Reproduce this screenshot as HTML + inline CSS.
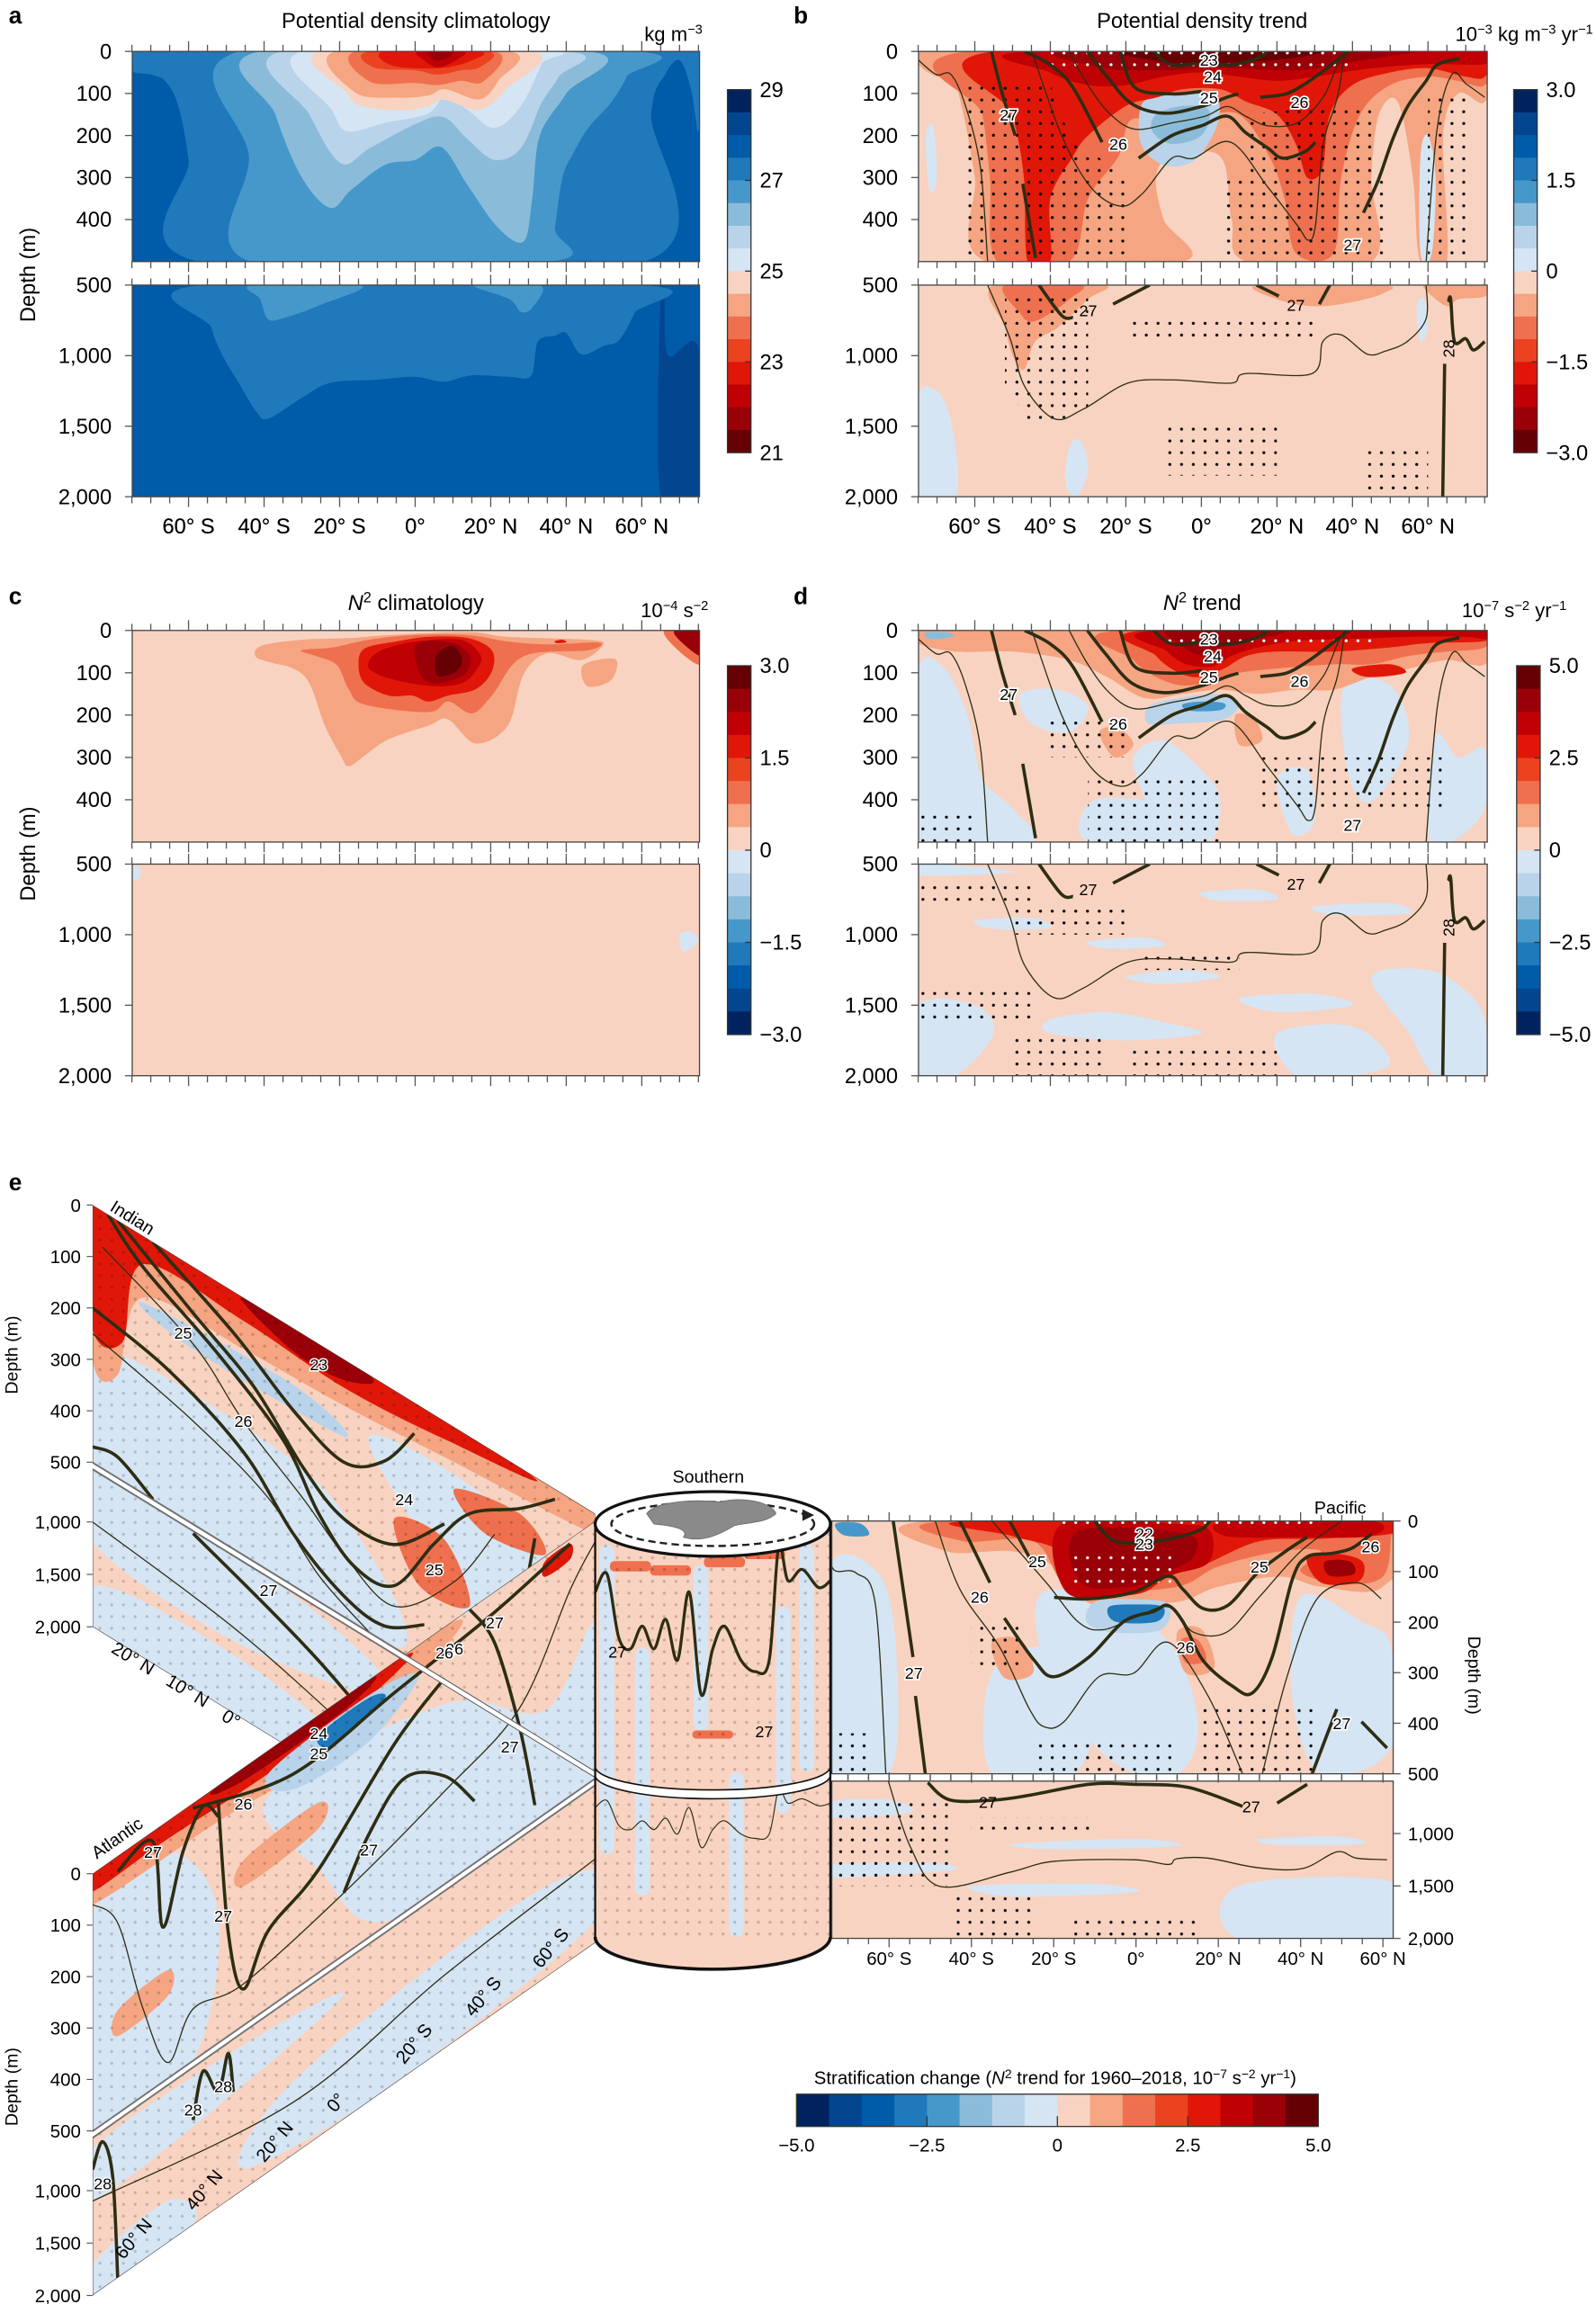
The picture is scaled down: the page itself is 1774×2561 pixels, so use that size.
<!DOCTYPE html>
<html><head><meta charset="utf-8"><style>
html,body{margin:0;padding:0;background:#fff;}
svg{display:block;font-family:"Liberation Sans",sans-serif;}
</style></head><body>
<svg id="fig" xmlns="http://www.w3.org/2000/svg" width="1774" height="2561" viewBox="0 0 1086 1567.8" preserveAspectRatio="none">
<defs>
<pattern id="dots" patternUnits="userSpaceOnUse" width="8" height="8"><circle cx="4" cy="4" r="1" fill="#000"/></pattern>
<pattern id="wdots" patternUnits="userSpaceOnUse" width="8" height="8"><circle cx="4" cy="4" r="1" fill="#fff"/></pattern>
</defs>
<g id="layer"></g>
<g font-weight="bold" font-size="16">
<text x="6" y="16">a</text>
<text x="540" y="16">b</text>
<text x="6" y="411">c</text>
<text x="540" y="411">d</text>
<text x="6" y="810">e</text>
</g>
<g font-size="14.5" text-anchor="middle">
<text x="283" y="19">Potential density climatology</text>
<text x="818" y="19">Potential density trend</text>
<text x="283" y="415"><tspan font-style="italic">N</tspan><tspan dy="-5" font-size="10">2</tspan><tspan dy="5"> climatology</tspan></text>
<text x="818" y="415"><tspan font-style="italic">N</tspan><tspan dy="-5" font-size="10">2</tspan><tspan dy="5"> trend</tspan></text>
</g>
<g font-size="13.5" text-anchor="end">
<text x="478" y="28">kg m<tspan dy="-5" font-size="9">−3</tspan></text>
<text x="1084" y="28">10<tspan dy="-5" font-size="9">−3</tspan><tspan dy="5"> kg m</tspan><tspan dy="-5" font-size="9">−3</tspan><tspan dy="5"> yr</tspan><tspan dy="-5" font-size="9">−1</tspan></text>
<text x="482" y="420">10<tspan dy="-5" font-size="9">−4</tspan><tspan dy="5"> s</tspan><tspan dy="-5" font-size="9">−2</tspan></text>
<text x="1066" y="420">10<tspan dy="-5" font-size="9">−7</tspan><tspan dy="5"> s</tspan><tspan dy="-5" font-size="9">−2</tspan><tspan dy="5"> yr</tspan><tspan dy="-5" font-size="9">−1</tspan></text>
</g>
<g font-size="14.5" text-anchor="middle">
<text transform="translate(24,187) rotate(-90)">Depth (m)</text>
<text transform="translate(24,581) rotate(-90)">Depth (m)</text>
</g>
<g font-size="12" text-anchor="middle">
<text transform="translate(12,922) rotate(-90)">Depth (m)</text>
<text transform="translate(12,1420) rotate(-90)">Depth (m)</text>
<text transform="translate(999,1140) rotate(90)">Depth (m)</text>
<text x="482" y="1009">Southern</text>
<text x="912" y="1030">Pacific</text>
<text transform="translate(88,832) rotate(32)">Indian</text>
<text transform="translate(82,1254) rotate(-35)">Atlantic</text>
</g>
<text x="718" y="1418" font-size="12.5" text-anchor="middle">Stratification change (<tspan font-style="italic">N</tspan><tspan dy="-4" font-size="8.5">2</tspan><tspan dy="4"> trend for 1960–2018, 10</tspan><tspan dy="-4" font-size="8.5">−7</tspan><tspan dy="4"> s</tspan><tspan dy="-4" font-size="8.5">−2</tspan><tspan dy="4"> yr</tspan><tspan dy="-4" font-size="8.5">−1</tspan><tspan dy="4">)</tspan></text>
</svg>
<script>
const NS='http://www.w3.org/2000/svg';
const root=document.getElementById('layer');
const PAL=['#00235f','#03468f','#005ba8','#1f79ba','#4698cb','#8abcda','#b9d3ea','#d5e5f4','#f9d3c1','#f5a582','#ef704e','#eb4220','#e01708','#bf0005','#9a0008','#650005'];
const LINE='#2d2d14';

const aUpLayers=[
 ['#1f79ba',[[-75,0],[-75,46],[-70,55],[-66,72],[-62.7,131],[-60,258],[-57.3,500],[60.7,500],[62.5,148],[66.2,55],[70,21],[73,89],[75,190],[75,0]]],
 ['#4698cb',[[-46.5,0],[-44,250],[-43.6,500],[35.5,500],[37,420],[39,300],[42,240],[46,180],[52,120],[56,60],[58,0]]],
 ['#8abcda',[[-41,0],[-37,150],[-30,300],[-22.5,372],[-17,330],[-8,270],[0,258],[7,228],[14,320],[22,420],[28.7,452],[31,350],[33,200],[40,100],[46,0]]],
 ['#b9d3ea',[[-35.4,0],[-28,150],[-19.7,266],[-12,230],[0,173],[7.5,156],[14,210],[21,258],[28,230],[33.5,122],[38,60],[40,0]]],
 ['#d5e5f4',[[-30,0],[-22,140],[-18,190],[-8,170],[3.4,148],[8,105],[14,140],[21,182],[28,130],[33.5,30],[35,0]]],
 ['#f9d3c1',[[-25,0],[-18,100],[-14,131],[-3,140],[3.4,131],[7.5,115],[17,139],[24,90],[31,0]]],
 ['#f5a582',[[-21,0],[-16,97],[-5,110],[3.4,105],[8,90],[17,114],[22,70],[25,0]]],
 ['#ef704e',[[-15.6,0],[-12,72],[0,75],[6,80],[12,70],[18,72],[21,0]]],
 ['#eb4220',[[-12,0],[-11,38],[0,45],[6,55],[12,45],[17,38],[19,0]]],
 ['#e01708',[[-8,0],[-6,34],[6,40],[14,25],[17,0]]],
 ['#bf0005',[[0.7,0],[3,25],[6,38],[10,25],[13,0]]],
 ['#9a0008',[[3.5,0],[5,21],[8,18],[10,0]]]
];
const aLoLayers=[
 ['#03468f',[[65,560],[66,600],[67,1000],[75,950],[75,2000],[65,2000]]],
 ['#1f79ba',[[-56.6,500],[-54,800],[-51,1000],[-47,1180],[-42,1400],[-38.8,1445],[-30,1300],[-22.5,1193],[-10,1170],[0,1150],[7.5,1185],[15,1140],[25,1150],[30.7,1142],[32.5,900],[37,860],[40,840],[44,990],[50,930],[54,890],[58,700],[60,500]]],
 ['#4698cb',[[-43,500],[-41,600],[-39,740],[-35,735],[-25,640],[-14.3,500]]],
 ['#4698cb',[[15.7,500],[25,600],[28,690],[31,660],[33,500]]]
];
const bUpLayers=[
 ['#f5a582',[[-75,0],[-75,30],[-70,60],[-66,60],[-63,150],[-60,300],[-57,500],[-5,500],[-10,400],[-12,300],[-8,250],[5,250],[8,400],[12,500],[45,500],[45,300],[47,150],[52,120],[56,300],[58,500],[65,500],[64,200],[68,100],[75,120],[75,0]]],
 ['#ef704e',[[-62,0],[-58,150],[-56,300],[-54,500],[-35,500],[-30,350],[-22,250],[-18,160],[-5,200],[0,160],[10,150],[18,250],[22,350],[25,480],[35,480],[37,300],[42,150],[50,80],[60,60],[68,70],[75,80],[75,0]]],
 ['#e01708',[[-55,0],[-50,150],[-47,300],[-46,500],[-40,500],[-40,350],[-34,250],[-30,200],[-20,130],[-12,110],[-5,90],[5,90],[12,120],[20,150],[25,220],[28,300],[32,280],[34,150],[40,80],[50,50],[60,40],[70,60],[75,60],[75,0]]],
 ['#bf0005',[[-45,0],[-40,50],[-30,80],[-20,80],[-10,60],[0,50],[10,60],[20,70],[30,60],[45,40],[60,30],[75,30],[75,0]]],
 ['#9a0008',[[-35,0],[-25,40],[-10,45],[0,40],[10,40],[25,45],[40,25],[50,10],[50,0]]],
 ['#650005',[[-20,0],[-10,25],[0,30],[10,25],[20,20],[30,0]]],
 ['#b9d3ea',[[-16,130],[-12,110],[-4,100],[4,110],[4,180],[-2,260],[-10,270],[-16,220]]],
 ['#8abcda',[[-12,150],[-5,130],[2,140],[0,200],[-8,220],[-13,190]]],
 ['#d5e5f4',[[-73,200],[-71,180],[-70,300],[-72,330]]],
 ['#d5e5f4',[[58,250],[60,200],[62,300],[61,480],[58,480]]]
];
const bLoLayers=[
 ['#f5a582',[[-55,500],[-52,800],[-50,1000],[-47,1100],[-44,900],[-38,800],[-30,600],[-26,500]]],
 ['#f5a582',[[15,500],[20,600],[30,650],[40,620],[48,560],[48,500]]],
 ['#f5a582',[[60,550],[65,650],[68,600],[75,580],[75,500],[60,500]]],
 ['#ef704e',[[-52,500],[-48,700],[-45,760],[-40,700],[-35,600],[-32,500]]],
 ['#d5e5f4',[[-75,1300],[-70,1250],[-66,1500],[-65,2000],[-75,2000]]],
 ['#d5e5f4',[[-35,1650],[-32,1600],[-30,1800],[-33,2000],[-36,1900]]],
 ['#d5e5f4',[[57,650],[59,600],[60,800],[58,900]]]
];
const cUpLayers=[
 ['#f5a582',[[-42.3,61],[-40.7,36],[-30,22],[-17.6,18],[-7,11],[14,4],[24.5,15],[45.6,22],[49.8,33],[44,70],[35,54],[28.7,104],[24.5,225],[16,267],[8.7,210],[3.5,225],[-7,257],[-13.4,296],[-17.6,321],[-19.7,296],[-23.9,225],[-28,125],[-32.3,90],[-38.6,75]]],
 ['#f5a582',[[44.5,82],[45.6,132],[51.9,117],[53,68]]],
 ['#ef704e',[[-30.2,47],[-21.8,40],[-12.3,22],[-0.7,11],[14,11],[24.5,26],[35,33],[48.7,29],[45.6,47],[28.7,61],[20.3,154],[15,196],[8.7,168],[3.5,193],[-13.4,175],[-17.6,139],[-20.7,82],[-26,61]]],
 ['#e01708',[[-15,82],[-13.4,43],[-5,26],[3.5,15],[14,18],[20.3,47],[20.3,97],[16,139],[8.7,154],[3.5,168],[-0.7,154],[-7,154],[-13.4,125]]],
 ['#bf0005',[[-12.3,75],[-9,47],[0.3,26],[12,22],[17,54],[17,82],[13,122],[5.6,132],[-5,118],[-11.3,97]]],
 ['#9a0008',[[0.3,33],[9.8,29],[14.5,61],[13,104],[5.6,125],[1.4,104]]],
 ['#650005',[[5.6,61],[9.8,36],[12.4,68],[10.8,97],[6,107]]],
 ['#ef704e',[[66,0],[76,0],[76,80],[70,50]]],
 ['#9a0008',[[68.7,0],[76,0],[76,60],[70.8,30]]],
 ['#e01708',[[37,25],[39,22],[40,28],[37.5,30]]]
];
const cLoLayers=[
 ['#d5e5f4',[[-75,520],[-73,520],[-73,600],[-75,600]]],
 ['#d5e5f4',[[70,1000],[73,980],[75,1050],[71,1120]]]
];
const dUpLayers=[
 ['#d5e5f4',[[-75,100],[-68,90],[-62,200],[-58,350],[-50,420],[-45,500],[-75,500]]],
 ['#d5e5f4',[[-48,150],[-38,140],[-30,180],[-35,240],[-45,220]]],
 ['#d5e5f4',[[-18,300],[-10,260],[0,330],[5,400],[2,500],[-12,500],[-15,400]]],
 ['#d5e5f4',[[20,350],[28,330],[30,450],[24,480]]],
 ['#d5e5f4',[[38,130],[50,130],[55,250],[48,380],[42,400],[38,300]]],
 ['#d5e5f4',[[62,250],[68,300],[75,280],[75,420],[66,500],[60,480]]],
 ['#d5e5f4',[[-28,400],[-5,420],[0,500],[-30,500]]],
 ['#f5a582',[[-75,0],[-75,30],[-65,50],[-50,50],[-35,70],[-25,110],[-15,160],[-5,150],[5,140],[15,150],[25,140],[35,140],[45,110],[55,90],[65,70],[75,80],[75,0]]],
 ['#ef704e',[[-22,0],[-18,70],[-12,110],[-5,130],[3,120],[10,100],[20,90],[35,80],[45,80],[55,60],[65,50],[75,40],[75,0]]],
 ['#e01708',[[-15,0],[-12,60],[-6,100],[0,110],[6,90],[12,60],[20,50],[35,50],[50,40],[60,30],[75,25],[75,0]]],
 ['#bf0005',[[-12,0],[-9,50],[-4,80],[3,85],[8,60],[15,40],[25,25],[40,20],[55,15],[70,15],[75,20],[75,0]]],
 ['#9a0008',[[-8,0],[-6,30],[0,60],[5,40],[12,25],[20,10],[20,0]]],
 ['#e01708',[[40,90],[50,80],[54,100],[44,110]]],
 ['#b9d3ea',[[-14,180],[-6,160],[4,150],[10,170],[6,210],[-6,220],[-14,220]]],
 ['#4698cb',[[-5,175],[0,168],[6,172],[5,188],[-3,190]]],
 ['#f5a582',[[-27,240],[-22,230],[-18,270],[-23,300]]],
 ['#f5a582',[[9,200],[14,210],[16,260],[10,270]]],
 ['#8abcda',[[-73,5],[-67,5],[-66,15],[-72,20]]]
];
const dLoLayers=[
 ['#d5e5f4',[[-75,500],[-60,520],[-50,560],[-75,580]]],
 ['#d5e5f4',[[-75,1500],[-60,1500],[-55,1700],[-65,2000],[-75,2000]]],
 ['#d5e5f4',[[-40,1600],[-25,1550],[-10,1620],[0,1700],[-20,1750],[-40,1700]]],
 ['#d5e5f4',[[-20,1300],[-5,1250],[5,1300],[-10,1350]]],
 ['#d5e5f4',[[10,1450],[30,1420],[40,1500],[20,1550]]],
 ['#d5e5f4',[[45,1300],[60,1250],[70,1400],[75,1600],[75,2000],[62,2000],[55,1700]]],
 ['#d5e5f4',[[20,1700],[40,1650],[50,1900],[40,2000],[25,2000]]],
 ['#d5e5f4',[[-60,900],[-45,880],[-40,950],[-55,960]]],
 ['#d5e5f4',[[0,700],[15,680],[20,750],[5,760]]],
 ['#d5e5f4',[[30,800],[50,780],[55,850],[35,860]]],
 ['#d5e5f4',[[-30,1050],[-15,1020],[-10,1080],[-25,1100]]]
];
const cUpThick=[
 [[-55.6,0],[-52.7,101],[-49.3,200]],
 [[-47.3,315],[-43.9,491]],
 [[68.3,17],[62.4,32],[59.5,70],[54.6,131],[50.7,208],[46.8,307],[42.9,384]],
 [[-46.8,0],[-40,32],[-34,86],[-26.3,216]],
 [[-16.6,254],[-7.8,200],[0,177],[6.8,154],[11.7,193],[17.6,230],[21.5,254],[27.3,239],[30.2,216]],
 [[-30.2,0],[-25.4,55],[-18.5,124],[-9.8,147],[0,131],[6.8,109],[9.8,101]],
 [[15.6,109],[22.4,101],[27.3,78],[32.2,47],[39,0]],
 [[-21.5,0],[-17.6,86],[-7.8,101],[0,95]],
 [[-12.7,0],[-7.8,32],[0,28],[7.8,32],[14.6,17],[17.6,0]]
];
const cUpThin=[
 [[-75,20],[-70.2,55],[-66.3,55],[-62.4,131],[-58.5,277],[-56.6,500]],
 [[-44.9,0],[-37,200],[-29.3,323],[-21.5,368],[-15.6,338],[-7.8,254],[-2,254],[7.8,216],[17.6,323],[25.4,414],[28.3,449],[30.2,414],[32.2,223],[36,109],[38,0]],
 [[-35,0],[-30.2,78],[-24.4,147],[-17.6,185],[-7.8,170],[1,154],[6.8,131],[11.7,154],[17.6,177],[25.4,170],[32.2,109],[36,32],[38,0]],
 [[59.5,500],[62.4,185],[66.3,55],[70.2,78],[75,109]]
];
const cLoThick=[
 [[-43,500],[-37,715],[-34,730]],
 [[-23.4,635],[-13.7,500]],
 [[14.6,500],[20.5,578]],
 [[31.2,635],[34,500]],
 [[64.4,1058],[63.9,2000]],
 [[65.4,620],[66,600],[67,900],[70,880],[72,960],[75,900]]
];
const cLoThin=[
 [[-56.6,500],[-50.7,875],[-46.8,1218],[-39,1447],[-31.2,1378],[-19.5,1195],[-7.8,1172],[7.8,1195],[11.7,1127],[29.3,1127],[32.2,898],[37,852],[43.9,989],[48.8,967],[54.6,898],[59.5,738],[59.5,500]]
];
const bDotsUp=[[[-62,80],[-40,80],[-35,200],[-20,300],[-20,500],[-62,500]],[[5,300],[50,300],[48,500],[5,500]],[[12,150],[45,120],[45,300],[12,300]],[[60,100],[72,100],[72,500],[60,500]]];
const bWDotsUp=[[[-40,0],[40,0],[40,50],[-40,50]]];
const bDotsLo=[[[-52,550],[-30,550],[-30,1400],[-45,1500],[-52,1200]],[[-20,700],[30,700],[30,900],[-20,900]],[[-10,1450],[20,1450],[20,1850],[-10,1850]],[[42,1650],[60,1650],[60,2000],[42,2000]]];
const dDotsUp=[[[-75,420],[-60,420],[-60,500],[-75,500]],[[-40,200],[-20,200],[-20,300],[-40,300]],[[-30,340],[5,340],[5,500],[-30,500]],[[15,300],[65,300],[65,420],[15,420]]];
const dWDotsUp=[[[-10,0],[45,0],[45,40],[-10,40]]];
const dDotsLo=[[[-75,620],[-45,620],[-45,760],[-75,760]],[[-50,780],[-20,780],[-20,1000],[-50,1000]],[[-75,1400],[-45,1400],[-45,1600],[-75,1600]],[[-50,1700],[-25,1700],[-25,2000],[-50,2000]],[[-20,1800],[20,1800],[20,2000],[-20,2000]],[[-15,1150],[10,1150],[10,1250],[-15,1250]]];

const pUpLayers=[
 ['#d5e5f4',[[-75,100],[-62,110],[-58,300],[-60,500],[-75,500]]],
 ['#d5e5f4',[[-35,300],[-20,250],[-10,350],[-15,500],[-35,500]]],
 ['#d5e5f4',[[-24,154],[-10,150],[8,240],[15,400],[10,500],[-5,480],[-20,330]]],
 ['#d5e5f4',[[40,150],[55,200],[62,250],[62,450],[45,500],[38,350]]],
 ['#f5a582',[[-50,0],[-46,60],[-30,60],[-20,90],[-12,160],[-5,160],[10,160],[20,130],[35,110],[45,130],[60,130],[62,0]]],
 ['#ef704e',[[-45,0],[-42,40],[-25,40],[-18,120],[-10,140],[10,130],[20,90],[35,60],[45,60],[40,100],[50,125],[60,110],[62,30],[62,0]]],
 ['#e01708',[[-40,0],[-30,30],[-18.7,60],[-16,140],[0,145],[8,110],[17,85],[30,40],[45,35],[62,25],[62,0]]],
 ['#bf0005',[[-18,6],[-17,140],[-3,145],[8,108],[17.5,83],[18,20],[10,6]]],
 ['#9a0008',[[-14,20],[-13,125],[2,125],[8,100],[14,70],[12,25]]],
 ['#bf0005',[[22,0],[57,0],[57,30],[40,32],[22,30]]],
 ['#e01708',[[41.5,71],[48,64],[55,80],[54,120],[45,122]]],
 ['#9a0008',[[46,80],[52,80],[53,105],[47,108]]],
 ['#4698cb',[[-73,5],[-67,5],[-65,28],[-71,28]]],
 ['#b9d3ea',[[-10,160],[0,155],[8,165],[6,215],[-6,220],[-12,200]]],
 ['#1f79ba',[[-6.6,170],[0,165],[6.6,170],[5,199],[-5,199]]],
 ['#f5a582',[[10,220],[16,215],[19,290],[12,300]]],
 ['#ef704e',[[11,235],[15,235],[17,275],[12,280]]],
 ['#f5a582',[[-35,240],[-28,235],[-25,300],[-32,310]]]
];
const pLoLayers=[
 ['#d5e5f4',[[25,1500],[62,1460],[62,2000],[25,2000]]],
 ['#d5e5f4',[[-75,700],[-60,680],[-55,800],[-75,850]]],
 ['#d5e5f4',[[-75,1300],[-50,1280],[-45,1350],[-75,1420]]],
 ['#d5e5f4',[[-30,1100],[0,1050],[10,1120],[-20,1150]]],
 ['#d5e5f4',[[-40,1500],[-10,1480],[0,1560],[-30,1600]]],
 ['#d5e5f4',[[30,1050],[50,1030],[55,1100],[35,1110]]]
];
const pUpThick=[
 [[-59,0],[-54.2,269]],[[-53.6,346],[-51.2,500]],
 [[-42.8,0],[-35.5,122]],
 [[-32,192],[-24.7,276],[-19.9,308],[-11.4,269],[-3,199],[4.2,179],[7.8,167],[11.4,199],[16.3,276],[23.5,327],[28.3,340],[33.1,269],[38,115],[41.6,71],[47.6,64],[52.4,54],[57.2,26]],
 [[-30.7,0],[-24.7,90]],
 [[-19.9,151],[-11.4,154],[-0.6,141],[7.8,109],[11.4,135],[16.3,173],[22.3,167],[29.5,103],[36.7,58],[41.6,32]],
 [[-10,0],[-5,40],[5,40],[15,20],[18,0]],
 [[42.8,500],[48.8,372]],[[54.8,397],[61,449]]
];
const pUpThin=[
 [[-75,40],[-73.5,96],[-68,103],[-63.3,167],[-60.8,500]],
 [[-48.8,0],[-42.8,135],[-33.1,250],[-25.9,372],[-22.3,407],[-17.5,397],[-9,308],[-0.6,301],[7.8,240],[17.5,346],[25.9,500]],
 [[30.7,500],[36.7,308],[44,154],[53.6,122],[59.6,154]],
 [[-35,0],[-22,120],[-14,200],[-8,215],[0,190],[8,170],[14,220],[22,220],[30,150],[40,60],[50,0]]
];
const pLoThick=[
 [[-50.6,515],[-45.2,680],[-34.3,680],[-25.9,635],[-11.4,530],[-0.6,530],[12.7,560],[25.9,740]],
 [[34.3,710],[41.6,530]]
];
const pLoThin=[
 [[-60.2,500],[-54.8,1130],[-47.6,1505],[-30.7,1370],[-19.9,1265],[-0.6,1250],[7.8,1295],[10,1240],[17.5,1235],[29.5,1325],[40.4,1334],[48.8,1175],[53.6,1235],[61,1250]]
];
const pDotsUp=[[[-75,420],[-65,420],[-65,500],[-75,500]],[[-40,200],[-28,200],[-28,300],[-40,300]],[[-25,440],[10,440],[10,500],[-25,500]],[[15,360],[45,360],[45,500],[15,500]]];
const pWDotsUp=[[[-18,0],[45,0],[45,20],[-18,20]],[[-16,60],[10,60],[10,130],[-16,130]]];
const pDotsLo=[[[-75,700],[-45,700],[-45,1500],[-75,1500]],[[-40,850],[-10,850],[-10,1000],[-40,1000]],[[-45,1600],[-25,1600],[-25,2000],[-45,2000]],[[-15,1800],[15,1800],[15,2000],[-15,2000]]];

// Indian & Atlantic: [u along section 0..1, depth]
const iUpLayers=[
 ['#d5e5f4',[[0,280],[0.3,250],[0.5,300],[0.6,500],[0,500]]],
 ['#d5e5f4',[[0.55,120],[0.8,100],[0.95,200],[1,500],[0.85,500],[0.7,300]]],
 ['#f5a582',[[0,0],[1,0],[1,40],[0.7,70],[0.5,90],[0.3,100],[0.1,120],[0.05,300],[0,300]]],
 ['#e01708',[[0,0],[0.85,0],[0.7,35],[0.5,55],[0.3,45],[0.1,55],[0.06,230],[0,240]]],
 ['#9a0008',[[0.3,0],[0.55,0],[0.5,40],[0.4,45]]],
 ['#b9d3ea',[[0.1,130],[0.4,110],[0.5,150],[0.2,160]]],
 ['#ef704e',[[0.6,250],[0.7,230],[0.75,330],[0.65,350]]],
 ['#ef704e',[[0.72,120],[0.85,90],[0.9,140],[0.78,170]]]
];
const iLoLayers=[
 ['#d5e5f4',[[0,520],[0.4,520],[0.6,900],[0.3,1300],[0,1200]]],
 ['#d5e5f4',[[0.05,1500],[0.4,1500],[0.6,2000],[0,2000]]],
 ['#d5e5f4',[[0.7,600],[0.9,600],[1,900],[0.85,1200]]],
 ['#f5a582',[[0.65,510],[0.8,510],[0.78,700],[0.68,700]]]
];
const iUpThick=[[[0.03,0],[0.1,60],[0.25,140],[0.38,230],[0.45,330],[0.52,390],[0.6,380],[0.68,250],[0.75,150],[0.85,80],[0.92,20]],
 [[0,200],[0.15,230],[0.3,300],[0.4,400],[0.5,460],[0.58,470],[0.66,420]],
 [[0.05,0],[0.2,90],[0.32,160],[0.42,260],[0.5,310],[0.6,300],[0.7,200]],
 [[0.12,0],[0.28,80],[0.4,160],[0.5,200],[0.58,150],[0.64,60]],
 [[0,470],[0.05,460],[0.12,500]],
 [[0.88,120],[0.85,300],[0.82,500]]];
const iUpThin=[[[0,250],[0.2,300],[0.35,360],[0.45,450],[0.55,500]],[[0.02,70],[0.2,150],[0.3,240],[0.42,320],[0.5,380],[0.6,420],[0.72,300],[0.8,160]]];
const iLoThick=[[[0.2,520],[0.45,1000],[0.7,1700]],[[0.82,500],[0.8,1100],[0.78,2000]]];
const iLoThin=[[[0,1000],[0.3,1200],[0.6,1600],[0.8,1800]],[[0.92,500],[0.85,1000],[0.8,1500]]];
const aUpLayersE=[
 ['#d5e5f4',[[0,80],[0.15,60],[0.25,250],[0.2,500],[0,500]]],
 ['#d5e5f4',[[0.35,90],[0.7,150],[0.9,300],[1,200],[1,500],[0.6,500],[0.45,300]]],
 ['#f5a582',[[0,0],[0.7,0],[0.62,70],[0.45,90],[0.25,70],[0,60]]],
 ['#e01708',[[0,0],[0.6,0],[0.55,35],[0.35,45],[0.15,35],[0,35]]],
 ['#9a0008',[[0.25,0],[0.55,0],[0.5,25],[0.3,25]]],
 ['#b9d3ea',[[0.35,45],[0.55,30],[0.65,60],[0.55,120],[0.4,110]]],
 ['#1f79ba',[[0.45,40],[0.55,35],[0.58,60],[0.48,80]]],
 ['#f5a582',[[0.3,180],[0.45,170],[0.45,220],[0.3,230]]],
 ['#f5a582',[[0.05,300],[0.15,290],[0.15,340],[0.05,350]]],
 ['#e01708',[[0.9,10],[0.95,10],[0.95,40],[0.9,40]]]
];
const aLoLayersE=[
 ['#d5e5f4',[[0,600],[0.3,620],[0.5,800],[0.3,1000],[0,1100]]],
 ['#d5e5f4',[[0.4,1300],[0.8,1100],[1,1300],[1,1800],[0.6,2000],[0.3,1800]]],
 ['#d5e5f4',[[0,1700],[0.15,1600],[0.2,2000],[0,2000]]]
];
const aUpThickE=[[[0.05,30],[0.12,20],[0.14,200],[0.18,80],[0.22,20],[0.25,60]],[[0.25,30],[0.27,300],[0.3,430],[0.35,350],[0.45,300],[0.6,160],[0.7,100]],[[0.2,10],[0.4,80],[0.6,60],[0.8,40],[0.95,10]],[[0.75,0],[0.8,100],[0.85,300],[0.88,470]],[[0.5,380],[0.55,300],[0.62,240],[0.7,290],[0.76,380]]];
const aUpThinE=[[[0,60],[0.05,130],[0.1,330],[0.15,470],[0.2,400],[0.3,420],[0.5,380],[0.7,320],[0.85,260],[0.95,100],[1,40]]];
const aLoThickE=[[[0,800],[0.02,600],[0.04,1000],[0.05,2000]],[[0.2,1000],[0.22,600],[0.25,900],[0.27,600],[0.28,1000]]];
const aLoThinE=[[[0,1100],[0.4,1500],[0.7,1300],[1,1200]]];
// Southern cylinder: [fraction across, top, bottom]
const cylBlue=[[0.05,0.05,0.8],[0.2,0.3,0.9],[0.45,0.1,0.5],[0.6,0.6,1.0],[0.8,0.2,0.7],[0.9,0.05,0.6]];
const cylRed=[[0.15,0.09,0.115],[0.32,0.1,0.125],[0.55,0.08,0.105],[0.72,0.06,0.085],[0.5,0.5,0.52]];
const cylLine=[[0,0.3],[0.05,0.22],[0.1,0.5],[0.15,0.55],[0.2,0.45],[0.25,0.55],[0.3,0.42],[0.35,0.6],[0.4,0.3],[0.45,0.75],[0.5,0.55],[0.55,0.45],[0.62,0.6],[0.68,0.65],[0.74,0.6],[0.78,0.1],[0.82,0.25],[0.88,0.2],[0.95,0.28],[1,0.25]];

const cbA=['29','27','25','23','21'];
const cbB=['3.0','1.5','0','−1.5','−3.0'];
const cbC=['3.0','1.5','0','−1.5','−3.0'];
const cbD=['5.0','2.5','0','−2.5','−5.0'];
const cbE=['−5.0','−2.5','0','2.5','5.0'];
const depthUp=[0,100,200,300,400];
const depthLo=[500,1000,1500,2000];
const latTicks=[-60,-40,-20,0,20,40,60];
const latNames=['60° S','40° S','20° S','0°','20° N','40° N','60° N'];

function fmtD(d){return d>=1000?Math.floor(d/1000)+','+String(d%1000).padStart(3,'0'):String(d);}
function mk(tag,attrs,parent){const e=document.createElementNS(NS,tag);for(const k in attrs)e.setAttribute(k,attrs[k]);(parent||root).appendChild(e);return e;}
function cr(p,closed){
 const n=p.length;if(n<2)return '';
 let d='M'+p[0][0].toFixed(2)+','+p[0][1].toFixed(2);
 const N=closed?n:n-1;
 for(let i=0;i<N;i++){
  const p0=p[closed?(i-1+n)%n:Math.max(i-1,0)],p1=p[i],p2=p[(i+1)%n],p3=p[closed?(i+2)%n:Math.min(i+2,n-1)];
  const c1=[p1[0]+(p2[0]-p0[0])/6,p1[1]+(p2[1]-p0[1])/6],c2=[p2[0]-(p3[0]-p1[0])/6,p2[1]-(p3[1]-p1[1])/6];
  d+='C'+c1[0].toFixed(2)+','+c1[1].toFixed(2)+' '+c2[0].toFixed(2)+','+c2[1].toFixed(2)+' '+p2[0].toFixed(2)+','+p2[1].toFixed(2);
 }
 return closed?d+'Z':d;
}
let clipN=0;
function clipPoly(pts){const id='cp'+(clipN++);const defs=document.querySelector('defs');const c=mk('clipPath',{id:id},defs);mk('polygon',{points:pts.map(p=>p.join(',')).join(' ')},c);return id;}
function axis(x0,x1,xc,k,y0,y1,lo){
 return {x0:x0,x1:x1,y0:y0,y1:y1,fx:lat=>xc+k*lat,fy:d=>lo?y0+(d-500)*(y1-y0)/1500:y0+d*(y1-y0)/500};
}
function drawField(ax,base,layers,thick,thin,dots,wdots,name){
 const cid=clipPoly([[ax.x0,ax.y0],[ax.x1,ax.y0],[ax.x1,ax.y1],[ax.x0,ax.y1]]);
 const g=mk('g',{'clip-path':'url(#'+cid+')'});
 
 
 mk('rect',{x:ax.x0,y:ax.y0,width:ax.x1-ax.x0,height:ax.y1-ax.y0,fill:base},g);
 const P=p=>[ax.fx(p[0]),ax.fy(p[1])];
 layers.forEach(L=>{const e=mk('path',{d:cr(L[1].map(P),true),fill:L[0]},g);});
 (dots||[]).forEach(r=>mk('path',{d:'M'+r.map(P).map(q=>q.join(',')).join('L')+'Z',fill:'url(#dots)'},g));
 (wdots||[]).forEach(r=>mk('path',{d:'M'+r.map(P).map(q=>q.join(',')).join('L')+'Z',fill:'url(#wdots)'},g));
 (thin||[]).forEach(l=>{const e=mk('path',{d:cr(l.map(P),false),fill:'none',stroke:LINE,'stroke-width':0.8},g);});
 (thick||[]).forEach(l=>{const e=mk('path',{d:cr(l.map(P),false),fill:'none',stroke:LINE,'stroke-width':2.2},g);});
 mk('rect',{x:ax.x0,y:ax.y0,width:ax.x1-ax.x0,height:ax.y1-ax.y0,fill:'none',stroke:'#444','stroke-width':0.8});
}
function ticks(ax,labels,labelX){
 const g=mk('g',{stroke:'#555','stroke-width':0.8});
 
 
 for(let lat=-75;lat<=75;lat+=5){
  const x=ax.fx(lat);if(x<ax.x0-0.5||x>ax.x1+0.5)continue;
  const L=(lat%20===0)?7:4.5;
  mk('line',{x1:x,y1:ax.y0,x2:x,y2:ax.y0-L},g);
  mk('line',{x1:x,y1:ax.y1,x2:x,y2:ax.y1+L},g);
 }
 labels.forEach(d=>{const y=ax.fy(d);mk('line',{x1:ax.x0,y1:y,x2:ax.x0-5,y2:y},g);
  const t=mk('text',{x:labelX,y:y+5,'font-size':14.5,'text-anchor':'end',stroke:'none',fill:'#000'});t.textContent=fmtD(d);
  });
}
function latLabels(ax,y,size){
 latTicks.forEach((lat,i)=>{const t=mk('text',{x:ax.fx(lat),y:y,'font-size':size,'text-anchor':'middle'});t.textContent=latNames[i];
  });
}
function vbar(x,y,w,h,colors,labels,name){
 const g=mk('g',{});
 
 
 const n=colors.length,ch=h/n;
 colors.forEach((c,i)=>mk('rect',{x:x,y:y+i*ch,width:w,height:ch+0.3,fill:c},g));
 mk('rect',{x:x,y:y,width:w,height:h,fill:'none',stroke:'#333','stroke-width':0.8},g);
 labels.forEach((s,i)=>{const yy=y+i*h/(labels.length-1);
  if(i>0&&i<labels.length-1)mk('line',{x1:x+w-4,y1:yy,x2:x+w,y2:yy,stroke:'#333','stroke-width':0.8},g);
  const t=mk('text',{x:x+w+6,y:yy+5,'font-size':14.5},g);t.textContent=s;
  });
}

const A_up=axis(90,476,282.5,2.57,35,178,false), A_lo=axis(90,476,282.5,2.57,194,338,true);
const B_up=axis(625,1012,817.5,2.57,35,178,false), B_lo=axis(625,1012,817.5,2.57,194,338,true);
const C_up=axis(90,476,282.5,2.57,429,573,false), C_lo=axis(90,476,282.5,2.57,588,732,true);
const D_up=axis(625,1012,817.5,2.57,429,573,false), D_lo=axis(625,1012,817.5,2.57,588,732,true);

drawField(A_up,'#005ba8',aUpLayers,[],[],[],[],'panel-a-upper-field');
drawField(A_lo,'#005ba8',aLoLayers,[],[],[],[],'panel-a-lower-field');
drawField(B_up,'#f9d3c1',bUpLayers,cUpThick,cUpThin,bDotsUp,bWDotsUp,'panel-b-upper-field');
drawField(B_lo,'#f9d3c1',bLoLayers,cLoThick,cLoThin,bDotsLo,[],'panel-b-lower-field');
drawField(C_up,'#f9d3c1',cUpLayers,[],[],[],[],'panel-c-upper-field');
drawField(C_lo,'#f9d3c1',cLoLayers,[],[],[],[],'panel-c-lower-field');
drawField(D_up,'#f9d3c1',dUpLayers,cUpThick,cUpThin,dDotsUp,dWDotsUp,'panel-d-upper-field');
drawField(D_lo,'#f9d3c1',dLoLayers,cLoThick,cLoThin,dDotsLo,[],'panel-d-lower-field');
[[A_up,A_lo,76],[B_up,B_lo,611],[C_up,C_lo,76],[D_up,D_lo,611]].forEach(p=>{
 ticks(p[0],depthUp,p[2]);ticks(p[1],depthLo,p[2]);latLabels(p[1],363,14.5);
});
vbar(495,61,16,247,PAL,cbA,'panel-a-colorbar');
vbar(1030,61,16,247,PAL,cbB,'panel-b-colorbar');
vbar(495,453,16,251,PAL.slice().reverse(),cbC,'panel-c-colorbar');
vbar(1032,453,16,251,PAL.slice().reverse(),cbD,'panel-d-colorbar');
[B_up,D_up].forEach(ax=>{
 [[-51,150,'27'],[-22,220,'26'],[2,20,'23'],[3,60,'24'],[2,110,'25'],[26,120,'26'],[40,460,'27']].forEach(l=>{
  const t=mk('text',{x:ax.fx(l[0]),y:ax.fy(l[1])+4,'font-size':11,'text-anchor':'middle',fill:'#000',stroke:'#fff','stroke-width':2.2,'paint-order':'stroke'});t.textContent=l[2];
  });
});
[B_lo,D_lo].forEach(ax=>{[[-30,680,'27'],[25,640,'27']].forEach(l=>{const t=mk('text',{x:ax.fx(l[0]),y:ax.fy(l[1])+4,'font-size':11,'text-anchor':'middle'});t.textContent=l[2];});
 const t=mk('text',{transform:'translate('+ax.fx(67)+','+ax.fy(950)+') rotate(-90)','font-size':11,'text-anchor':'middle'});t.textContent='28';});

// Pacific
const P_up=axis(566,948,773,2.8,1035,1207,false), P_lo=axis(566,948,773,2.8,1212,1319,true);
drawField(P_up,'#f9d3c1',pUpLayers,pUpThick,pUpThin,pDotsUp,pWDotsUp,'pacific-upper-field');
drawField(P_lo,'#f9d3c1',pLoLayers,pLoThick,pLoThin,pDotsLo,[],'pacific-lower-field');
[P_up,P_lo].forEach((ax,j)=>{
 const g=mk('g',{stroke:'#555','stroke-width':0.8});
 for(let lat=-70;lat<=60;lat+=5){const x=ax.fx(lat);const L=lat%20===0?6:4;mk('line',{x1:x,y1:ax.y0,x2:x,y2:ax.y0-L},g);mk('line',{x1:x,y1:ax.y1,x2:x,y2:ax.y1+L},g);}
 (j===0?depthUp.concat([500]):depthLo.slice(1)).forEach(d=>{const y=ax.fy(d);mk('line',{x1:ax.x1,y1:y,x2:ax.x1+5,y2:y},g);
  const t=mk('text',{x:ax.x1+10,y:y+4.5,'font-size':12.5,stroke:'none',fill:'#000'});t.textContent=fmtD(d);
  });
});
latLabels(P_lo,1337,12.5);
[[-24,80,'25'],[-38,150,'26'],[-54,300,'27'],[12,250,'26'],[30,90,'25'],[2,25,'22'],[2,45,'23'],[57,50,'26'],[50,400,'27']].forEach(l=>{
 const t=mk('text',{x:P_up.fx(l[0]),y:P_up.fy(l[1])+4,'font-size':11,'text-anchor':'middle',fill:'#000',stroke:'#fff','stroke-width':2,'paint-order':'stroke'});t.textContent=l[2];
 });
[[-36,700,'27'],[28,740,'27']].forEach(l=>{const t=mk('text',{x:P_lo.fx(l[0]),y:P_lo.fy(l[1])+4,'font-size':11,'text-anchor':'middle'});t.textContent=l[2];});

// skewed sections
function skew(ox,oy,ux,uy){
 const f=(d,lo)=>lo?180+(d-500)*107/1500:d*175/500;
 return {ox:ox,oy:oy,ux:ux,uy:uy,P:(p,lo)=>[ox+p[0]*ux,oy+p[0]*uy+f(p[1],lo)],
  box:lo=>{const a=lo?180:0,b=lo?287:175;return [[ox,oy+a],[ox+ux,oy+uy+a],[ox+ux,oy+uy+b],[ox,oy+b]];}};
}
function drawSkew(S,lo,layers,thick,thin,name){
 const box=S.box(lo);const cid=clipPoly(box);
 const g=mk('g',{'clip-path':'url(#'+cid+')'});
 
 
 mk('polygon',{points:box.map(p=>p.join(',')).join(' '),fill:'#f9d3c1'},g);
 layers.forEach(L=>{const e=mk('path',{d:cr(L[1].map(p=>S.P(p,lo)),true),fill:L[0]},g);});
 mk('polygon',{points:box.map(p=>p.join(',')).join(' '),fill:'url(#dots)',opacity:0.18},g);
 thin.forEach(l=>mk('path',{d:cr(l.map(p=>S.P(p,lo)),false),fill:'none',stroke:LINE,'stroke-width':0.8},g));
 thick.forEach(l=>mk('path',{d:cr(l.map(p=>S.P(p,lo)),false),fill:'none',stroke:LINE,'stroke-width':2.2},g));
 mk('polygon',{points:box.map(p=>p.join(',')).join(' '),fill:'none',stroke:'#444','stroke-width':0.7},g);
}
const IND=skew(63,820,342,210), ATL=skew(63,1275,342,-240);
drawSkew(IND,false,iUpLayers,iUpThick,iUpThin,'indian-upper-field');
drawSkew(IND,true,iLoLayers,iLoThick,iLoThin,'indian-lower-field');
drawSkew(ATL,false,aUpLayersE,aUpThickE,aUpThinE,'atlantic-upper-field');
drawSkew(ATL,true,aLoLayersE,aLoThickE,aLoThinE,'atlantic-lower-field');
[IND,ATL].forEach(S=>{mk('line',{x1:S.ox,y1:S.oy+177.5,x2:S.ox+S.ux,y2:S.oy+S.uy+177.5,stroke:'#fff','stroke-width':4});
 mk('line',{x1:S.ox,y1:S.oy+175.5,x2:S.ox+S.ux,y2:S.oy+S.uy+175.5,stroke:'#555','stroke-width':0.6});
 mk('line',{x1:S.ox,y1:S.oy+179.5,x2:S.ox+S.ux,y2:S.oy+S.uy+179.5,stroke:'#555','stroke-width':0.6});});
[[IND,'indian'],[ATL,'atlantic']].forEach(q=>{const S=q[0];
 depthUp.concat([500]).forEach(d=>{const y=S.oy+d*175/500;mk('line',{x1:S.ox,y1:y,x2:S.ox-4,y2:y,stroke:'#555','stroke-width':0.7});
  const t=mk('text',{x:S.ox-8,y:y+4.5,'font-size':12.5,'text-anchor':'end'});t.textContent=fmtD(d);});
 depthLo.slice(1).forEach(d=>{const y=S.oy+180+(d-500)*107/1500;mk('line',{x1:S.ox,y1:y,x2:S.ox-4,y2:y,stroke:'#555','stroke-width':0.7});
  const t=mk('text',{x:S.ox-8,y:y+4.5,'font-size':12.5,'text-anchor':'end'});t.textContent=fmtD(d);});
});
[['20° N',75,1124],['10° N',112,1146],['0°',150,1170]].forEach(l=>{const t=mk('text',{transform:'translate('+l[1]+','+l[2]+') rotate(31)','font-size':12.5});t.textContent=l[0];});
[['60° S',368,1340],['40° S',322,1373],['20° S',275,1405],['0°',228,1438],['20° N',180,1472],['40° N',132,1505],['60° N',84,1538]].forEach(l=>{const t=mk('text',{transform:'translate('+l[1]+','+l[2]+') rotate(-50)','font-size':12.5});t.textContent=l[0];});
[[[IND,0.18,140],'25'],[[IND,0.3,240],'26'],[[IND,0.45,40],'23'],[[IND,0.62,200],'24'],[[IND,0.68,300],'25'],[[IND,0.72,430],'26'],[[IND,0.35,620],'27'],[[IND,0.83,700],'27'],
 [[ATL,0.12,40],'27'],[[ATL,0.45,35],'24'],[[ATL,0.45,75],'25'],[[ATL,0.3,70],'26'],[[ATL,0.7,50],'26'],[[ATL,0.8,60],'27'],[[ATL,0.26,260],'27'],[[ATL,0.55,330],'27'],[[ATL,0.02,1000],'28'],[[ATL,0.2,900],'28'],[[ATL,0.26,880],'28']].forEach(l=>{
 const p=l[0][0].P([l[0][1],l[0][2]],l[0][2]>500);const t=mk('text',{x:p[0],y:p[1]+4,'font-size':11,'text-anchor':'middle',fill:'#000',stroke:'#fff','stroke-width':1.8,'paint-order':'stroke'});t.textContent=l[1];});

// Southern cylinder
(function(){
 const x0=405,x1=565,cx=485,rx=80,cyT=1037,ryT=22,cyB=1318,ryB=22;
 const body='M'+x0+','+cyT+' L'+x0+','+cyB+' A'+rx+','+ryB+' 0 0 0 '+x1+','+cyB+' L'+x1+','+cyT+' Z';
 const defs=document.querySelector('defs');const c=mk('clipPath',{id:'cyl'},defs);mk('path',{d:body},c);
 const g=mk('g',{'clip-path':'url(#cyl)'});
 
 
 mk('rect',{x:x0,y:cyT,width:160,height:310,fill:'#f9d3c1'},g);
 const H=cyB-cyT;
 cylBlue.forEach(s=>mk('rect',{x:x0+s[0]*160-5,y:cyT+s[1]*H,width:10,height:(s[2]-s[1])*H,rx:5,fill:'#d5e5f4'},g));
 cylRed.forEach(s=>mk('rect',{x:x0+s[0]*160-14,y:cyT+s[1]*H,width:28,height:(s[2]-s[1])*H,rx:3,fill:'#ef704e'},g));
 mk('rect',{x:x0,y:cyT,width:160,height:H,fill:'url(#dots)',opacity:0.2},g);
 const cl=mk('path',{d:cr(cylLine.map(p=>[x0+p[0]*160,cyT+p[1]*(H*0.55)]),false),fill:'none',stroke:LINE,'stroke-width':2},g);
 
 mk('path',{d:cr(cylLine.map(p=>[x0+p[0]*160,cyT+175+p[1]*60]),false),fill:'none',stroke:LINE,'stroke-width':0.7},g);
 mk('path',{d:'M'+x0+',1205 A'+rx+',16 0 0 0 '+x1+',1205',fill:'none',stroke:'#fff','stroke-width':5},g);
 mk('path',{d:'M'+x0+',1202 A'+rx+',16 0 0 0 '+x1+',1202',fill:'none',stroke:'#111','stroke-width':1},g);
 mk('path',{d:'M'+x0+',1208 A'+rx+',16 0 0 0 '+x1+',1208',fill:'none',stroke:'#111','stroke-width':1},g);
 mk('path',{d:body,fill:'none',stroke:'#111','stroke-width':1.4});
 mk('path',{d:'M'+x0+','+cyB+' A'+rx+','+ryB+' 0 0 0 '+x1+','+cyB,fill:'none',stroke:'#111','stroke-width':2.2});
 const top=mk('ellipse',{cx:cx,cy:cyT,rx:rx,ry:ryT,fill:'#fff',stroke:'#111','stroke-width':2});
 
 mk('ellipse',{cx:cx,cy:cyT,rx:69,ry:15,fill:'none',stroke:'#222','stroke-width':1.5,'stroke-dasharray':'5,3'});
 mk('path',{d:'M546,1027 l8,4 l-8,4 z',fill:'#222'});
 const ant=mk('path',{d:'M440,1030 C445,1022 470,1020 490,1022 C505,1018 525,1022 528,1030 C522,1036 510,1036 500,1038 C490,1044 478,1050 465,1046 C470,1040 455,1038 445,1037 Z',fill:'#8a8a8a',stroke:'#666','stroke-width':0.5});
 
 [['27',420,1128],['27',520,1182]].forEach(l=>{const t=mk('text',{x:l[1],y:l[2],'font-size':11,'text-anchor':'middle'});t.textContent=l[0];});
})();

// panel e colour bar
(function(){
 const x=542,y=1425,w=355,h=22;const g=mk('g',{});
 
 
 PAL.forEach((c,i)=>mk('rect',{x:x+i*w/16,y:y,width:w/16+0.3,height:h,fill:c},g));
 mk('rect',{x:x,y:y,width:w,height:h,fill:'none',stroke:'#333','stroke-width':0.8},g);
 cbE.forEach((s,i)=>{const xx=x+i*w/4;if(i>0&&i<4)mk('line',{x1:xx,y1:y+h-7,x2:xx,y2:y+h,stroke:'#333','stroke-width':0.8},g);
  const t=mk('text',{x:xx,y:y+h+17,'font-size':12.5,'text-anchor':'middle'},g);t.textContent=s;});
})();
</script>
</body></html>
